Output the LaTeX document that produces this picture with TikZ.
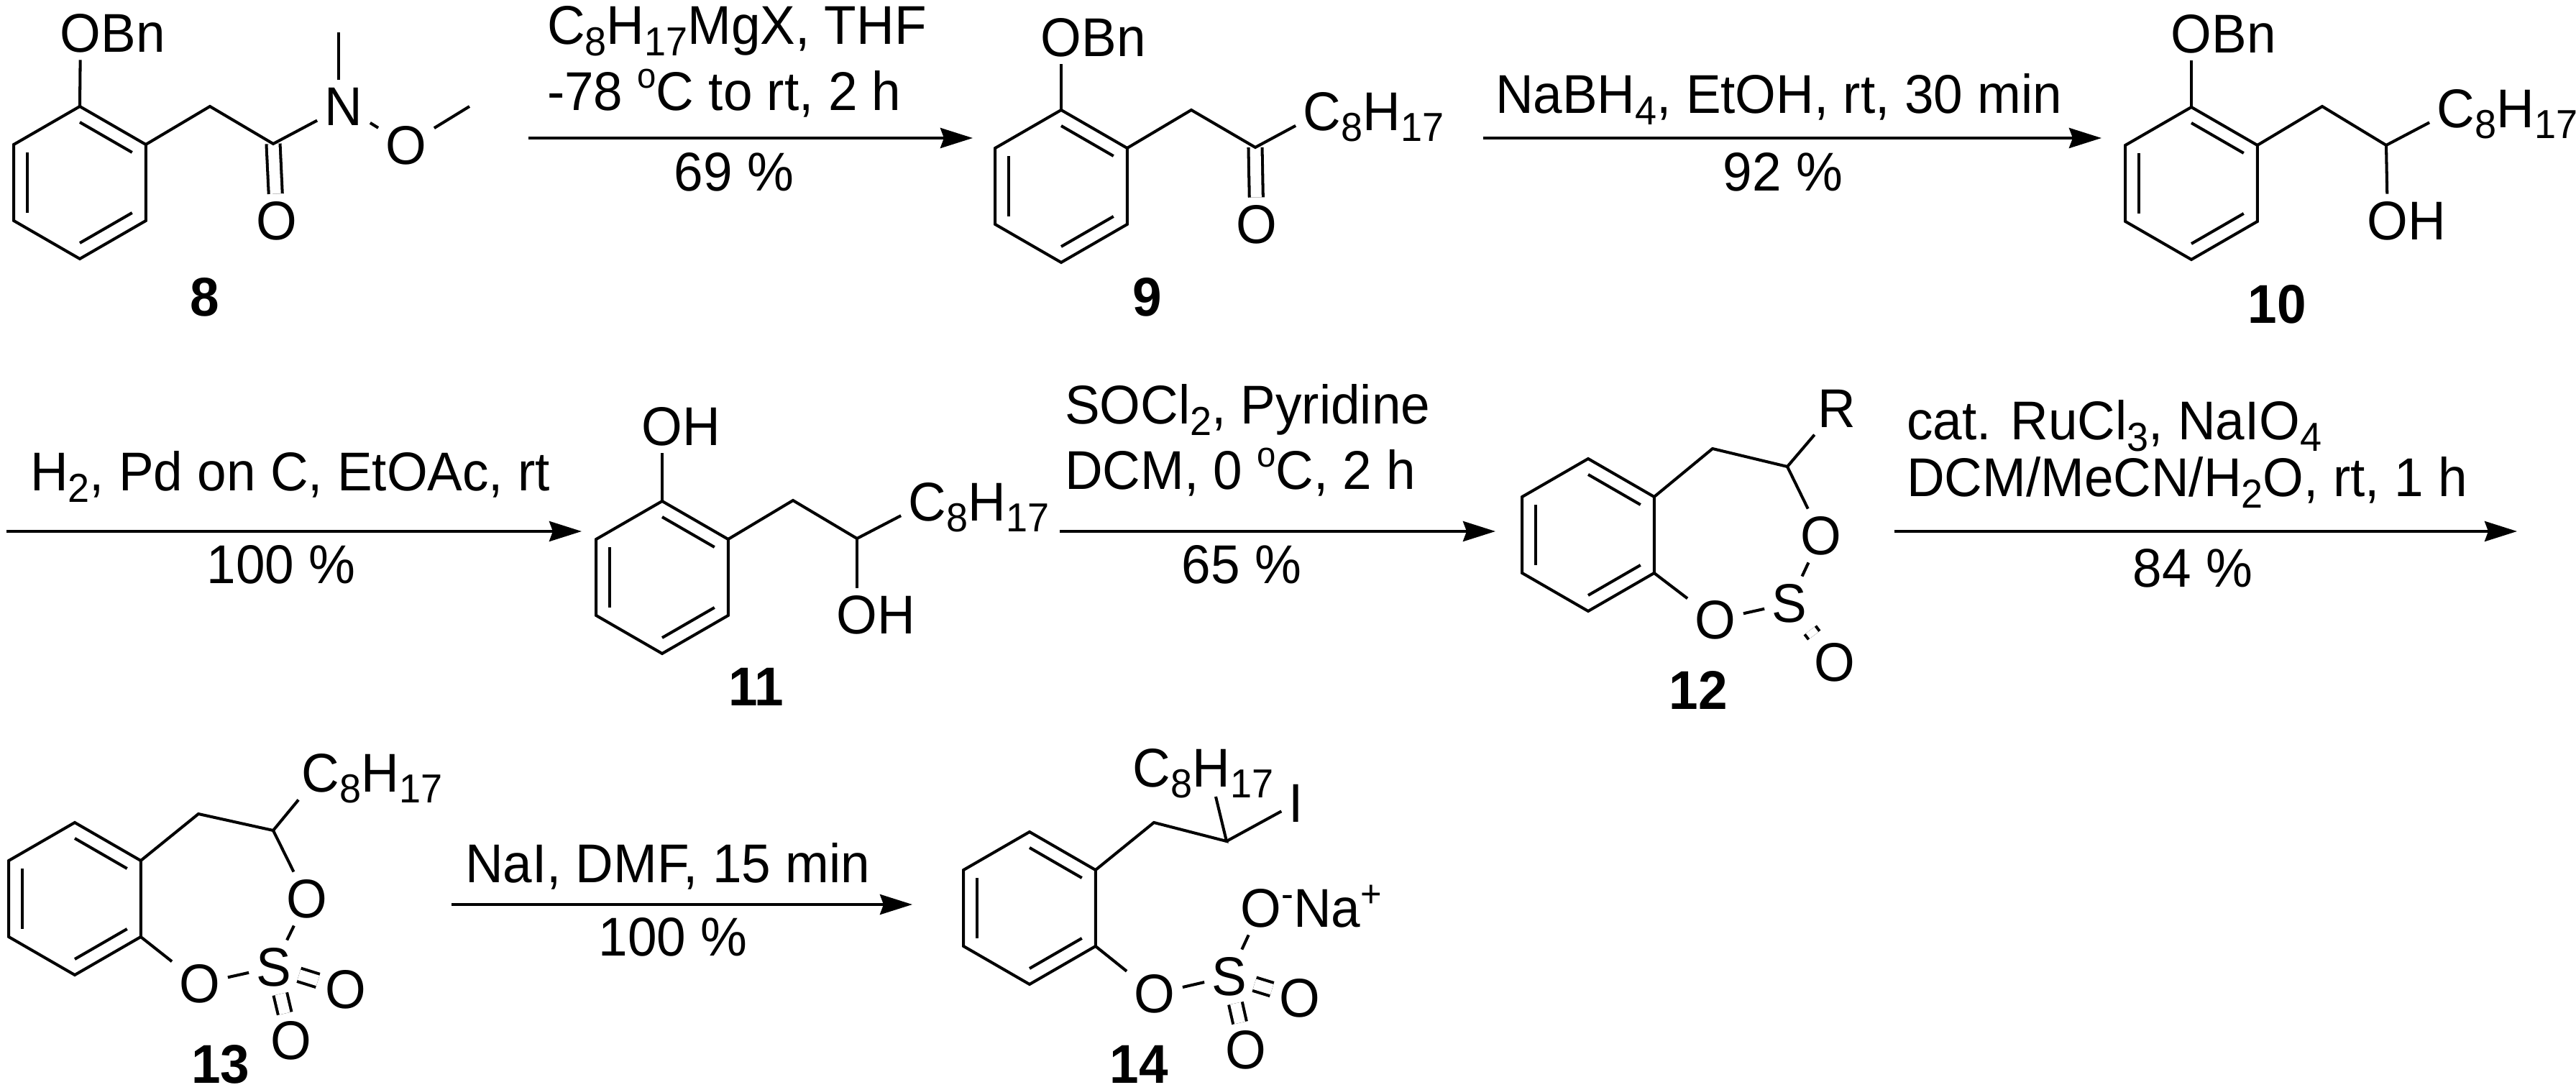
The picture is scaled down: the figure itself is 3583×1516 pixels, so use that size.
\documentclass[tikz,border=0pt]{standalone}
\usepackage{fontspec}
\setmainfont[FakeStretch=0.96]{Liberation Sans}
\usetikzlibrary{arrows.meta,positioning}

% subscript, raised o, raised charge
\newcommand{\sbt}[1]{\raisebox{-0.2em}{\fontsize{16}{16}\selectfont #1}}
\newcommand{\dego}{\raisebox{0.42em}{\fontsize{14}{14}\selectfont o}}
\newcommand{\spt}[1]{\raisebox{0.36em}{\fontsize{15}{15}\selectfont #1}}

\tikzset{
  txt/.style={font=\fontsize{21.6}{26}\selectfont, inner sep=0pt},
  atom/.style={txt, outer sep=3pt},
  tail/.style={atom, anchor=base west, xshift=-6pt},
  reagent/.style={txt, anchor=base west},
  yield/.style={txt, anchor=base},
  cmpd/.style={txt, font=\fontsize{21.6}{26}\selectfont\bfseries},
  dbl/.style={double, double distance=0.15cm},
  rxn/.style={-{Stealth[length=0.45cm,width=0.28cm,inset=0.05cm]}}
}

% benzene ring: name, centre x, centre y
\newcommand{\phenyl}[3]{%
  \begin{scope}[shift={(#2,#3)}]
    \foreach \k/\ang in {a/-90,b/-30,c/30,d/90,e/150,f/210}
      \coordinate (#1\k) at (\ang:106);
    \draw (#1a) -- (#1b) -- (#1c) -- (#1d) -- (#1e) -- (#1f) -- cycle;
    \draw (-90:84) -- (-30:84);
    \draw (150:84) -- (210:84);
    \draw (30:84) -- (90:84);
  \end{scope}}

\begin{document}
\begin{tikzpicture}[x=0.01cm, y=-0.01cm, line width=1.15pt, line join=miter]
\useasboundingbox (0,0) rectangle (3583,1516);

% ------------------ compound 8 ------------------
\phenyl{r8}{111}{254}
\coordinate (c8a) at (292,148);
\coordinate (c8b) at (380,200);
\coordinate (me8a) at (471,45);
\coordinate (me8b) at (653,148);
\node[atom] (o8a) at (112,46) {O};
\node[tail] (bn8) at (o8a.base east) {Bn};
\node[atom] (o8b) at (385,307) {O};
\node[atom] (n8) at (478,148) {N};
\node[atom] (o8c) at (565,202) {O};
\node[cmpd] (lab8) at (285,413) {8};
\draw[dbl] (c8b) -- (o8b);
\draw (r8a) -- (o8a);
\draw (r8b) -- (c8a) -- (c8b) -- (n8);
\draw (n8.north -| me8a) -- (me8a);
\draw (n8) -- (o8c) -- (me8b);

% first arrow
\coordinate (a1s) at (735,192);
\coordinate (a1e) at (1353,192);
\draw[rxn] (a1s) -- (a1e);
\node[reagent] (t1a) at (759,62) {C\sbt{8}H\sbt{17}MgX, THF};
\node[reagent] (t1b) at (759,154) {-78 \dego C to rt, 2 h};
\node[yield] (t1c) at (1021,266) {69 \%};

% ------------------ compound 9 ------------------
\phenyl{r9}{1476}{259}
\coordinate (c9a) at (1657,153);
\coordinate (c9b) at (1746,205);
\node[atom] (o9a) at (1476,52) {O};
\node[tail] (bn9) at (o9a.base east) {Bn};
\node[atom] (o9b) at (1748,312) {O};
\node[atom] (c9c) at (1839,155) {C};
\node[tail] (oc9) at (c9c.base east) {\sbt{8}H\sbt{17}};
\node[cmpd] (lab9) at (1596,413) {9};
\draw[dbl] (c9b) -- (o9b);
\draw (r9a) -- (o9a);
\draw (r9b) -- (c9a) -- (c9b) -- (c9c);

% second arrow
\coordinate (a2s) at (2063,192);
\coordinate (a2e) at (2923,192);
\draw[rxn] (a2s) -- (a2e);
\node[reagent] (t2a) at (2078,158) {NaBH\sbt{4}, EtOH, rt, 30 min};
\node[yield] (t2b) at (2480,266) {92 \%};

% ------------------ compound 10 ------------------
\phenyl{r10}{3048}{255}
\coordinate (c10a) at (3230,148);
\coordinate (c10b) at (3319,202);
\node[atom] (o10a) at (3048,47) {O};
\node[tail] (bn10) at (o10a.base east) {Bn};
\node[atom] (o10b) at (3321,307) {O};
\node[tail] (h10) at (o10b.base east) {H};
\node[atom] (c10c) at (3416,151) {C};
\node[tail] (oc10) at (c10c.base east) {\sbt{8}H\sbt{17}};
\node[cmpd] (lab10) at (3167,423) {10};
\draw (r10a) -- (o10a);
\draw (r10b) -- (c10a) -- (c10b) -- (c10c);
\draw (c10b) -- (o10b);

% third arrow
\coordinate (a3s) at (9,739);
\coordinate (a3e) at (809,739);
\draw[rxn] (a3s) -- (a3e);
\node[reagent] (t3a) at (40,683) {H\sbt{2}, Pd on C, EtOAc, rt};
\node[yield] (t3b) at (391,812) {100 \%};

% ------------------ compound 11 ------------------
\phenyl{r11}{921}{803}
\coordinate (c11a) at (1103,696);
\coordinate (c11b) at (1192,749);
\node[atom] (o11a) at (921,593) {O};
\node[tail] (h11a) at (o11a.base east) {H};
\node[atom] (o11b) at (1192,855) {O};
\node[tail] (h11b) at (o11b.base east) {H};
\node[atom] (c11c) at (1290,698) {C};
\node[tail] (oc11) at (c11c.base east) {\sbt{8}H\sbt{17}};
\node[cmpd] (lab11) at (1052,955) {11};
\draw (r11a) -- (o11a);
\draw (r11b) -- (c11a) -- (c11b) -- (c11c);
\draw (c11b) -- (o11b);

% fourth arrow
\coordinate (a4s) at (1474,739);
\coordinate (a4e) at (2080,739);
\draw[rxn] (a4s) -- (a4e);
\node[reagent] (t4a) at (1479,590) {SOCl\sbt{2}, Pyridine};
\node[reagent] (t4b) at (1479,681) {DCM, 0 \dego C, 2 h};
\node[yield] (t4c) at (1727,812) {65 \%};

% ------------------ compound 12 ------------------
\phenyl{r12}{2209}{744}
\coordinate (c12a) at (2382,624);
\coordinate (c12b) at (2486,649);
\node[atom] (rr12) at (2555,568) {R};
\node[atom] (o12a) at (2533,745) {O};
\node[atom] (o12b) at (2386,862) {O};
\node[atom] (s12) at (2489,839) {S};
\node[atom] (o12c) at (2552,921) {O};
\node[cmpd] (lab12) at (2362,960) {12};
\draw (r12b) -- (c12a) -- (c12b) -- (rr12);
\draw (c12b) -- (o12a) -- (s12) -- (o12b) -- (r12c);
\draw[dbl] (s12) -- (o12c);

% fifth arrow
\coordinate (a5s) at (2635,739);
\coordinate (a5e) at (3501,739);
\draw[rxn] (a5s) -- (a5e);
\node[reagent] (t5a) at (2650,612) {cat. RuCl\sbt{3}, NaIO\sbt{4}};
\node[reagent] (t5b) at (2650,691) {DCM/MeCN/H\sbt{2}O, rt, 1 h};
\node[yield] (t5c) at (3050,817) {84 \%};

% ------------------ compound 13 ------------------
\phenyl{r13}{104}{1250}
\coordinate (c13a) at (276,1132);
\coordinate (c13b) at (380,1155);
\node[atom] (c13c) at (446,1075) {C};
\node[tail] (oc13) at (c13c.base east) {\sbt{8}H\sbt{17}};
\node[atom] (o13a) at (427,1250) {O};
\node[atom] (o13b) at (278,1368) {O};
\node[atom] (s13) at (381,1345) {S};
\node[atom] (o13c) at (481,1376) {O};
\node[atom] (o13d) at (405,1447) {O};
\node[cmpd] (lab13) at (307,1480) {13};
\draw (r13b) -- (c13a) -- (c13b) -- (c13c);
\draw (c13b) -- (o13a) -- (s13) -- (o13b) -- (r13c);
\draw[dbl] (s13) -- (o13c);
\draw[dbl] (s13) -- (o13d);

% sixth arrow
\coordinate (a6s) at (628,1258);
\coordinate (a6e) at (1269,1258);
\draw[rxn] (a6s) -- (a6e);
\node[reagent] (t6a) at (645,1228) {NaI, DMF, 15 min};
\node[yield] (t6b) at (936,1330) {100 \%};

% ------------------ compound 14 ------------------
\phenyl{r14}{1432}{1263}
\coordinate (c14a) at (1605,1144);
\coordinate (c14b) at (1706,1170);
\coordinate (c14c) at (1691,1108);
\node[atom] (c14d) at (1602,1068) {C};
\node[tail] (oc14) at (c14d.base east) {\sbt{8}H\sbt{17}};
\node[atom] (i14) at (1803,1117) {I};
\node[atom] (o14a) at (1606,1382) {O};
\node[atom] (s14) at (1710,1358) {S};
\node[atom] (o14b) at (1754,1263) {O};
\node[tail] (na14) at (o14b.base east) {\spt{-}Na\spt{+}};
\node[atom] (o14c) at (1808,1388) {O};
\node[atom] (o14d) at (1733,1460) {O};
\node[cmpd] (lab14) at (1584,1480) {14};
\draw (r14b) -- (c14a) -- (c14b) -- (c14c);
\draw (c14b) -- (i14);
\draw (r14c) -- (o14a) -- (s14) -- (o14b);
\draw[dbl] (s14) -- (o14c);
\draw[dbl] (s14) -- (o14d);

\end{tikzpicture}
\end{document}
